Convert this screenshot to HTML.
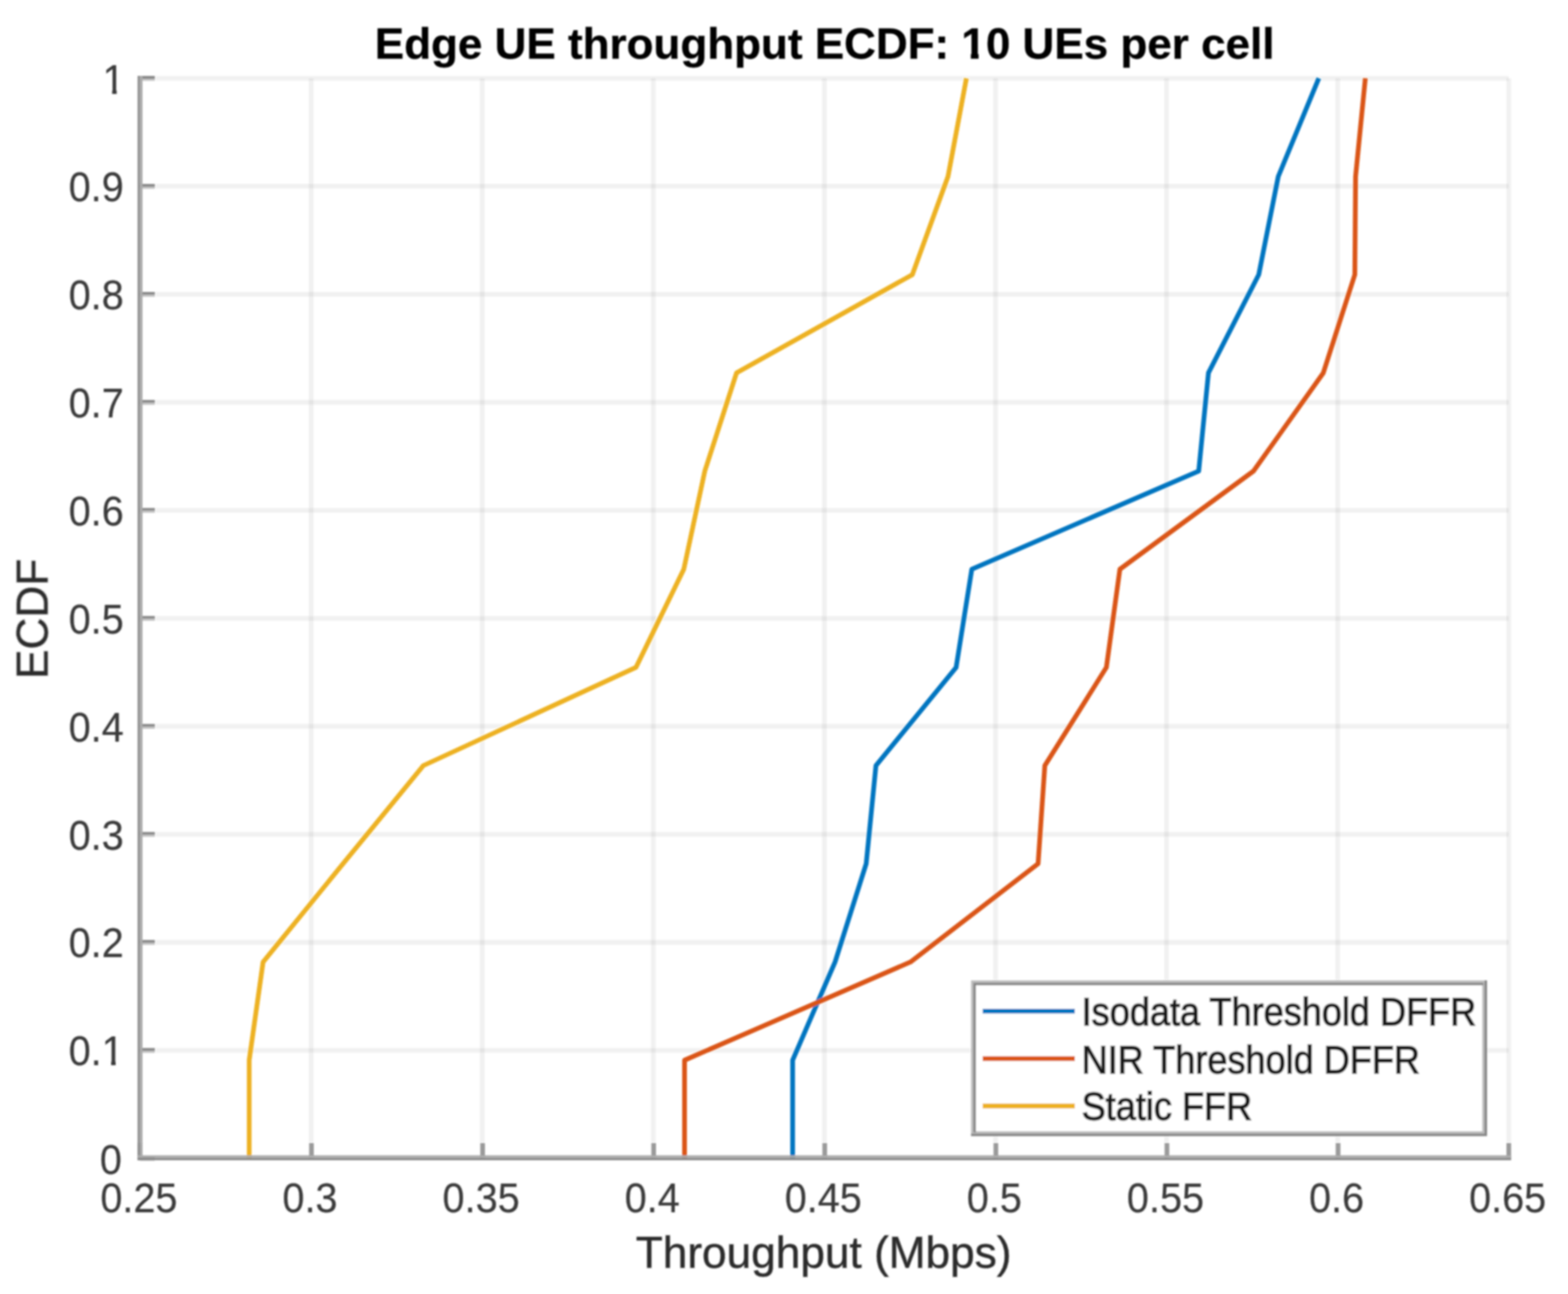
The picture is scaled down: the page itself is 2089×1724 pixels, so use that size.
<!DOCTYPE html>
<html lang="en"><head><meta charset="utf-8"><title>Edge UE throughput ECDF: 10 UEs per cell</title>
<style>
html,body{margin:0;padding:0;background:#fff;}
body{width:2089px;height:1724px;}
svg{display:block;}
text{font-family:"Liberation Sans",Arial,Helvetica,sans-serif;}
.tick{font-size:55px;fill:#3a3a3a;stroke:#3a3a3a;stroke-width:0.4px;stroke-opacity:.55;}
.lab{font-size:58.6px;fill:#2c2c2c;stroke:#2c2c2c;stroke-width:1.0px;stroke-opacity:.55;}
.leg{font-size:51px;fill:#161616;stroke:#161616;stroke-width:2.0px;stroke-opacity:.55;}
.title{font-size:57.6px;fill:#050505;stroke:#050505;stroke-width:0.8px;stroke-opacity:.55;font-weight:bold;}
</style></head><body>
<svg width="2089" height="1724" viewBox="0 0 2089 1724">
<defs><filter id="b" x="-5%" y="-5%" width="110%" height="110%"><feGaussianBlur stdDeviation="0.9"/></filter>
<clipPath id="c1" clipPathUnits="userSpaceOnUse"><rect x="-3000" y="-200" width="6000" height="193.89"/><rect x="-17.46" y="-6.61" width="6.26" height="9.11"/><rect x="-3000" y="-200" width="2969.41" height="400"/></clipPath>
<clipPath id="c1t" clipPathUnits="userSpaceOnUse"><rect x="-3000" y="-200" width="6000" height="192.12"/><rect x="191.34" y="-8.38" width="10.10" height="10.88"/><rect x="-3000" y="-200" width="3178.99" height="400"/><rect x="211.03" y="-200" width="3000" height="400"/></clipPath>
</defs>
<rect width="2089" height="1724" fill="#ffffff"/>
<g filter="url(#b)">
<g stroke="#000000" stroke-opacity="0.054" stroke-width="6.3" fill="none">
<line x1="414.5" y1="104.3" x2="414.5" y2="1543.3"/>
<line x1="642.5" y1="104.3" x2="642.5" y2="1543.3"/>
<line x1="870.4" y1="104.3" x2="870.4" y2="1543.3"/>
<line x1="1098.3" y1="104.3" x2="1098.3" y2="1543.3"/>
<line x1="1326.3" y1="104.3" x2="1326.3" y2="1543.3"/>
<line x1="1554.2" y1="104.3" x2="1554.2" y2="1543.3"/>
<line x1="1782.2" y1="104.3" x2="1782.2" y2="1543.3"/>
<line x1="2010.1" y1="104.3" x2="2010.1" y2="1543.3"/>
<line x1="186.6" y1="1399.4" x2="2010.1" y2="1399.4"/>
<line x1="186.6" y1="1255.5" x2="2010.1" y2="1255.5"/>
<line x1="186.6" y1="1111.6" x2="2010.1" y2="1111.6"/>
<line x1="186.6" y1="967.7" x2="2010.1" y2="967.7"/>
<line x1="186.6" y1="823.8" x2="2010.1" y2="823.8"/>
<line x1="186.6" y1="679.9" x2="2010.1" y2="679.9"/>
<line x1="186.6" y1="536.0" x2="2010.1" y2="536.0"/>
<line x1="186.6" y1="392.1" x2="2010.1" y2="392.1"/>
<line x1="186.6" y1="248.2" x2="2010.1" y2="248.2"/>
<line x1="186.6" y1="104.3" x2="2010.1" y2="104.3"/>
</g>
<polyline points="1056.0,1543.3 1056.0,1412.5 1112.5,1281.7 1154.0,1150.8 1167.0,1020.0 1273.8,889.2 1294.7,758.4 1597.0,627.6 1610.0,496.8 1677.0,365.9 1703.0,235.1 1757.0,104.3" fill="none" stroke="#0674c0" stroke-width="6.3" stroke-linejoin="round"/>
<polyline points="912.0,1543.3 912.0,1412.5 1213.0,1281.7 1383.0,1150.8 1392.0,1020.0 1474.0,889.2 1492.0,758.4 1670.0,627.6 1763.0,496.8 1805.0,365.9 1806.0,235.1 1819.0,104.3" fill="none" stroke="#da5519" stroke-width="6.3" stroke-linejoin="round"/>
<polyline points="332.0,1543.3 332.0,1412.5 350.5,1281.7 457.0,1150.8 564.0,1020.0 847.3,889.2 911.0,758.4 939.0,627.6 981.3,496.8 1215.5,365.9 1263.0,235.1 1287.5,104.3" fill="none" stroke="#edb120" stroke-width="6.3" stroke-linejoin="round"/>
<g fill="none">
<line x1="186.6" y1="1542.5" x2="186.6" y2="1523.0" stroke="#9a9a9a" stroke-width="6.2"/>
<line x1="415.0" y1="1542.5" x2="415.0" y2="1523.0" stroke="#9a9a9a" stroke-width="6.2"/>
<line x1="643.0" y1="1542.5" x2="643.0" y2="1523.0" stroke="#9a9a9a" stroke-width="6.2"/>
<line x1="870.9" y1="1542.5" x2="870.9" y2="1523.0" stroke="#9a9a9a" stroke-width="6.2"/>
<line x1="1098.8" y1="1542.5" x2="1098.8" y2="1523.0" stroke="#9a9a9a" stroke-width="6.2"/>
<line x1="1326.8" y1="1542.5" x2="1326.8" y2="1523.0" stroke="#9a9a9a" stroke-width="6.2"/>
<line x1="1554.7" y1="1542.5" x2="1554.7" y2="1523.0" stroke="#9a9a9a" stroke-width="6.2"/>
<line x1="1782.7" y1="1542.5" x2="1782.7" y2="1523.0" stroke="#9a9a9a" stroke-width="6.2"/>
<line x1="2010.1" y1="1542.5" x2="2010.1" y2="1523.0" stroke="#9a9a9a" stroke-width="6.2"/>
<line x1="186.6" y1="1542.1" x2="206.2" y2="1542.1" stroke="#888888" stroke-width="3.8"/>
<line x1="186.6" y1="1545.3" x2="206.2" y2="1545.3" stroke="#c2c2c2" stroke-width="2.6"/>
<line x1="186.6" y1="1398.2" x2="206.2" y2="1398.2" stroke="#888888" stroke-width="3.8"/>
<line x1="186.6" y1="1401.4" x2="206.2" y2="1401.4" stroke="#c2c2c2" stroke-width="2.6"/>
<line x1="186.6" y1="1254.3" x2="206.2" y2="1254.3" stroke="#888888" stroke-width="3.8"/>
<line x1="186.6" y1="1257.5" x2="206.2" y2="1257.5" stroke="#c2c2c2" stroke-width="2.6"/>
<line x1="186.6" y1="1110.4" x2="206.2" y2="1110.4" stroke="#888888" stroke-width="3.8"/>
<line x1="186.6" y1="1113.6" x2="206.2" y2="1113.6" stroke="#c2c2c2" stroke-width="2.6"/>
<line x1="186.6" y1="966.5" x2="206.2" y2="966.5" stroke="#888888" stroke-width="3.8"/>
<line x1="186.6" y1="969.7" x2="206.2" y2="969.7" stroke="#c2c2c2" stroke-width="2.6"/>
<line x1="186.6" y1="822.6" x2="206.2" y2="822.6" stroke="#888888" stroke-width="3.8"/>
<line x1="186.6" y1="825.8" x2="206.2" y2="825.8" stroke="#c2c2c2" stroke-width="2.6"/>
<line x1="186.6" y1="678.7" x2="206.2" y2="678.7" stroke="#888888" stroke-width="3.8"/>
<line x1="186.6" y1="681.9" x2="206.2" y2="681.9" stroke="#c2c2c2" stroke-width="2.6"/>
<line x1="186.6" y1="534.8" x2="206.2" y2="534.8" stroke="#888888" stroke-width="3.8"/>
<line x1="186.6" y1="538.0" x2="206.2" y2="538.0" stroke="#c2c2c2" stroke-width="2.6"/>
<line x1="186.6" y1="390.9" x2="206.2" y2="390.9" stroke="#888888" stroke-width="3.8"/>
<line x1="186.6" y1="394.1" x2="206.2" y2="394.1" stroke="#c2c2c2" stroke-width="2.6"/>
<line x1="186.6" y1="247.0" x2="206.2" y2="247.0" stroke="#888888" stroke-width="3.8"/>
<line x1="186.6" y1="250.2" x2="206.2" y2="250.2" stroke="#c2c2c2" stroke-width="2.6"/>
<line x1="186.6" y1="103.1" x2="206.2" y2="103.1" stroke="#888888" stroke-width="3.8"/>
<line x1="186.6" y1="106.3" x2="206.2" y2="106.3" stroke="#c2c2c2" stroke-width="2.6"/>
<line x1="185.0" y1="101.1" x2="185.0" y2="1545.8" stroke="#8c8c8c" stroke-width="3.3"/>
<line x1="188.2" y1="101.1" x2="188.2" y2="1545.8" stroke="#ababab" stroke-width="3.3"/>
<line x1="183.3" y1="1540.8" x2="2013.3" y2="1540.8" stroke="#ababab" stroke-width="3.3"/>
<line x1="183.3" y1="1544.2" x2="2013.3" y2="1544.2" stroke="#898989" stroke-width="3.3"/>
</g>
<rect x="1296.9" y="1309.4" width="681.0" height="201.0" fill="#ffffff" stroke="#bcbcbc" stroke-width="6.4"/>
<path d="M1298.5,1508.8 V1311.0 H1976.3" fill="none" stroke="#868686" stroke-width="3.2"/>
<path d="M1979.5,1306.2 V1512.0 H1293.7" fill="none" stroke="#868686" stroke-width="3.2"/>
<line x1="1309.2" y1="1347.2" x2="1432" y2="1347.2" stroke="#0674c0" stroke-width="6.3"/>
<text class="leg" transform="translate(1441.00,1366.00) scale(0.9432,1)" text-anchor="start">Isodata Threshold DFFR</text>
<line x1="1309.2" y1="1410.3" x2="1432" y2="1410.3" stroke="#da5519" stroke-width="6.3"/>
<text class="leg" transform="translate(1441.00,1430.20) scale(0.9432,1)" text-anchor="start">NIR Threshold DFFR</text>
<line x1="1309.2" y1="1473.5" x2="1432" y2="1473.5" stroke="#edb120" stroke-width="6.3"/>
<text class="leg" transform="translate(1441.00,1491.70) scale(0.9432,1)" text-anchor="start">Static FFR</text>
<text class="tick" transform="translate(185.10,1615.00) scale(0.96,1)" text-anchor="middle">0.25</text>
<text class="tick" transform="translate(413.04,1615.00) scale(0.96,1)" text-anchor="middle">0.3</text>
<text class="tick" transform="translate(640.98,1615.00) scale(0.96,1)" text-anchor="middle">0.35</text>
<text class="tick" transform="translate(868.91,1615.00) scale(0.96,1)" text-anchor="middle">0.4</text>
<text class="tick" transform="translate(1096.85,1615.00) scale(0.96,1)" text-anchor="middle">0.45</text>
<text class="tick" transform="translate(1324.79,1615.00) scale(0.96,1)" text-anchor="middle">0.5</text>
<text class="tick" transform="translate(1552.72,1615.00) scale(0.96,1)" text-anchor="middle">0.55</text>
<text class="tick" transform="translate(1780.66,1615.00) scale(0.96,1)" text-anchor="middle">0.6</text>
<text class="tick" transform="translate(2008.60,1615.00) scale(0.96,1)" text-anchor="middle">0.65</text>
<text class="tick" transform="translate(162.40,1564.20) scale(0.96,1)" text-anchor="end">0</text>
<text class="tick" transform="translate(164.80,1419.30) scale(0.96,1)" text-anchor="end" clip-path="url(#c1)">0.1</text>
<text class="tick" transform="translate(164.80,1275.40) scale(0.96,1)" text-anchor="end">0.2</text>
<text class="tick" transform="translate(164.80,1131.50) scale(0.96,1)" text-anchor="end">0.3</text>
<text class="tick" transform="translate(164.80,987.60) scale(0.96,1)" text-anchor="end">0.4</text>
<text class="tick" transform="translate(164.80,843.70) scale(0.96,1)" text-anchor="end">0.5</text>
<text class="tick" transform="translate(164.80,699.80) scale(0.96,1)" text-anchor="end">0.6</text>
<text class="tick" transform="translate(164.80,555.90) scale(0.96,1)" text-anchor="end">0.7</text>
<text class="tick" transform="translate(164.80,412.00) scale(0.96,1)" text-anchor="end">0.8</text>
<text class="tick" transform="translate(164.80,268.10) scale(0.96,1)" text-anchor="end">0.9</text>
<text class="tick" transform="translate(166.20,124.90) scale(0.96,1)" text-anchor="end" clip-path="url(#c1)">1</text>
<text class="lab" transform="translate(1097.30,1689.00) scale(1.005,1)" text-anchor="middle">Throughput (Mbps)</text>
<text class="lab" transform="translate(63.40,824.50) rotate(-90) scale(1.005,1)" text-anchor="middle">ECDF</text>
<text class="title" transform="translate(1098.65,78.20) scale(1.018,1)" text-anchor="middle" clip-path="url(#c1t)" id="ttl">Edge UE throughput ECDF: 10 UEs per cell</text>
</g></svg></body></html>
